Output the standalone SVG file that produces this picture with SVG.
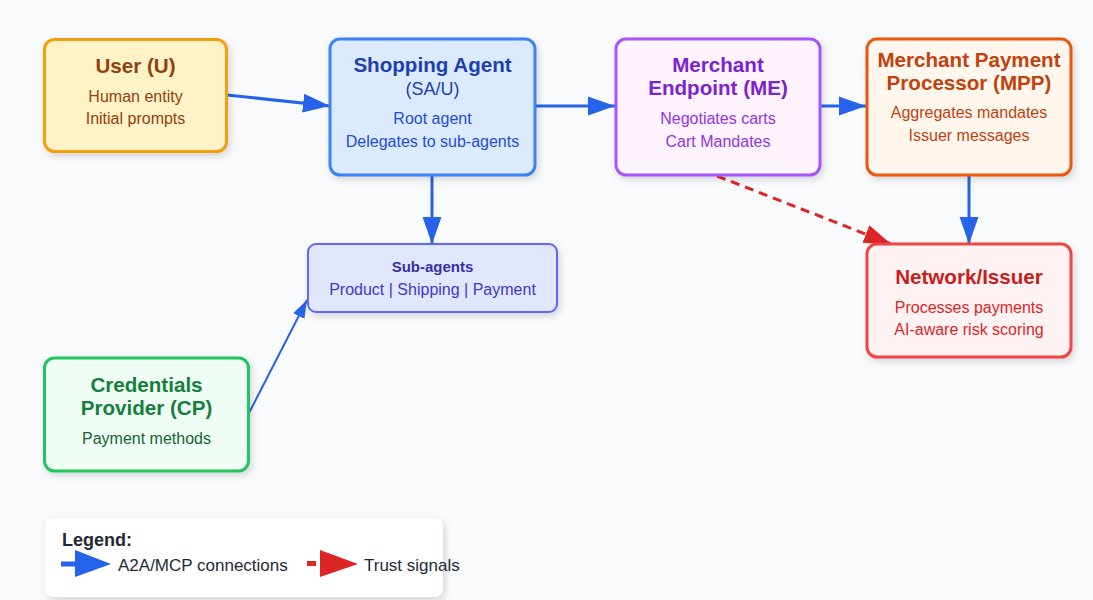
<svg xmlns="http://www.w3.org/2000/svg" width="1093" height="600" viewBox="0 0 1093 600">
  <defs>
    <filter id="sh" x="-20%" y="-20%" width="140%" height="150%">
      <feDropShadow dx="2" dy="3" stdDeviation="3.5" flood-color="#000" flood-opacity="0.15"/>
    </filter>
    <marker id="ab" viewBox="0 0 10 7" markerWidth="9" markerHeight="6.7" refX="10" refY="3.5" orient="auto" markerUnits="strokeWidth">
      <path d="M0,0 L10,3.5 L0,7 Z" fill="#2563eb"/>
    </marker>
    <marker id="ar" viewBox="0 0 10 7" markerWidth="9" markerHeight="6.7" refX="10" refY="3.5" orient="auto" markerUnits="strokeWidth">
      <path d="M0,0 L10,3.5 L0,7 Z" fill="#dc2626"/>
    </marker>
  </defs>
  <style>
    text { font-family: "Liberation Sans", Arial, sans-serif; text-anchor: middle; }
    .t { font-size: 20.6px; font-weight: bold; }
    .b { font-size: 16px; }
    .box { stroke-width: 3; filter: url(#sh); }
    .c { fill: none; stroke: #2563eb; stroke-width: 3; marker-end: url(#ab); }
  </style>
  <rect width="1093" height="600" fill="#f8fafc"/>

  <g id="connectors">
    <line class="c" x1="227" y1="95" x2="330" y2="106"/>
    <line class="c" x1="535" y1="106" x2="615" y2="106"/>
    <line class="c" x1="820" y1="106" x2="866" y2="106"/>
    <line class="c" x1="432" y1="176" x2="432" y2="244"/>
    <line class="c" x1="969" y1="176" x2="969" y2="244"/>
    <line class="c" x1="249" y1="413" x2="307" y2="300" style="stroke-width:2"/>
    <line x1="717" y1="176" x2="891" y2="244" stroke="#dc2626" stroke-width="3" stroke-dasharray="9,6" marker-end="url(#ar)"/>
  </g>

  <g id="user">
    <rect class="box" x="44.5" y="39.5" width="182" height="112" rx="10" fill="#fef3c7" stroke="#f59e0b"/>
    <text class="t" x="135.5" y="72.5" fill="#92400e">User (U)</text>
    <text class="b" x="135.5" y="101.5" fill="#92400e">Human entity</text>
    <text class="b" x="135.5" y="124" fill="#92400e">Initial prompts</text>
  </g>

  <g id="shopping-agent">
    <rect class="box" x="330" y="39" width="205" height="136" rx="10" fill="#dbeafe" stroke="#3b82f6"/>
    <text class="t" x="432.5" y="72" fill="#1e40af">Shopping Agent</text>
    <text x="432.5" y="95" font-size="18" fill="#1e40af">(SA/U)</text>
    <text class="b" x="432.5" y="124" fill="#1d4ed8">Root agent</text>
    <text class="b" x="432.5" y="147" fill="#1d4ed8">Delegates to sub-agents</text>
  </g>

  <g id="merchant-endpoint">
    <rect class="box" x="616" y="39" width="204" height="136" rx="10" fill="#fdf4ff" stroke="#a855f7"/>
    <text class="t" x="718" y="72" fill="#7e22ce">Merchant</text>
    <text class="t" x="718" y="95" fill="#7e22ce">Endpoint (ME)</text>
    <text class="b" x="718" y="124" fill="#9333ea">Negotiates carts</text>
    <text class="b" x="718" y="147" fill="#9333ea">Cart Mandates</text>
  </g>

  <g id="mpp">
    <rect class="box" x="867" y="39" width="204" height="136" rx="10" fill="#fff7ed" stroke="#ea580c"/>
    <text class="t" x="969" y="66.5" fill="#c2410c">Merchant Payment</text>
    <text class="t" x="969" y="90" fill="#c2410c">Processor (MPP)</text>
    <text class="b" x="969" y="118" fill="#c2410c">Aggregates mandates</text>
    <text class="b" x="969" y="141" fill="#c2410c">Issuer messages</text>
  </g>

  <g id="network-issuer">
    <rect class="box" x="867" y="244" width="204" height="113" rx="10" fill="#fef2f2" stroke="#ef4444"/>
    <text class="t" x="969" y="284" fill="#c81e1e">Network/Issuer</text>
    <text class="b" x="969" y="312.5" fill="#dc2626">Processes payments</text>
    <text class="b" x="969" y="335" fill="#dc2626">AI-aware risk scoring</text>
  </g>

  <g id="sub-agents">
    <rect x="308" y="244" width="249" height="68" rx="8" fill="#e0e7ff" stroke="#6366f1" stroke-width="2" filter="url(#sh)"/>
    <text x="432.5" y="272" font-size="15" font-weight="bold" fill="#3730a3">Sub-agents</text>
    <text class="b" x="432.5" y="295" fill="#4338ca">Product | Shipping | Payment</text>
  </g>

  <g id="credentials-provider">
    <rect class="box" x="44.5" y="358" width="204" height="113" rx="10" fill="#f0fdf4" stroke="#22c55e"/>
    <text class="t" x="146.5" y="391.5" fill="#15803d">Credentials</text>
    <text class="t" x="146.5" y="415" fill="#15803d">Provider (CP)</text>
    <text class="b" x="146.5" y="443.5" fill="#166534">Payment methods</text>
  </g>

  <g id="legend">
    <rect x="45" y="518" width="398" height="79" rx="8" fill="#ffffff" filter="url(#sh)"/>
    <text x="62" y="546" font-size="18" font-weight="bold" fill="#1f2937" style="text-anchor:start">Legend:</text>
    <line x1="61" y1="564" x2="77" y2="564" stroke="#2563eb" stroke-width="5"/>
    <polygon points="75,550 111,564 75,577" fill="#2563eb"/>
    <text x="118" y="571" font-size="17" fill="#1f2937" style="text-anchor:start">A2A/MCP connections</text>
    <rect x="307" y="561" width="9" height="5" fill="#dc2626"/>
    <polygon points="320,550 358,564 320,577" fill="#dc2626"/>
    <text x="364" y="571" font-size="17" fill="#1f2937" style="text-anchor:start">Trust signals</text>
  </g>
</svg>
